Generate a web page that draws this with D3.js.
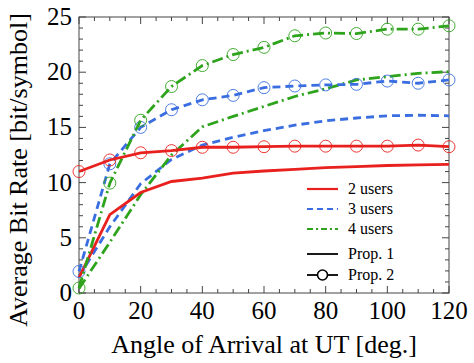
<!DOCTYPE html>
<html>
<head>
<meta charset="utf-8">
<script src="https://cdn.jsdelivr.net/npm/d3@7"></script>
<style>
  body { margin: 0; background: #fff; }
  svg { display: block; font-family: 'Liberation Serif', 'DejaVu Serif', serif; }
</style>
</head>
<body>
<script>
const angles = [0, 10, 20, 30, 40, 50, 60, 70, 80, 90, 100, 110, 120]

const red1 = [1.4, 7.1, 9.1, 10.1, 10.4, 10.85, 11.05, 11.2, 11.35, 11.45, 11.55, 11.6, 11.65]
const red2 = [11.0, 12.05, 12.7, 12.9, 13.2, 13.2, 13.25, 13.3, 13.3, 13.3, 13.3, 13.4, 13.25]
const blue1 = [1.5, 6.0, 9.9, 12.1, 13.4, 14.1, 14.7, 15.2, 15.6, 15.85, 16.05, 16.1, 16.05]
const blue2 = [1.95, 11.7, 15.0, 16.6, 17.5, 17.9, 18.6, 18.75, 18.85, 18.9, 19.2, 19.0, 19.3]
const green1 = [0.4, 4.6, 8.9, 12.5, 15.05, 16.0, 16.9, 17.8, 18.5, 19.3, 19.6, 19.9, 20.05]
const green2 = [0.45, 9.95, 15.65, 18.7, 20.6, 21.6, 22.25, 23.3, 23.55, 23.5, 23.9, 23.9, 24.2]

const xTicks = [0, 20, 40, 60, 80, 100, 120]
const yTicks = [0, 5, 10, 15, 20, 25]
const userLabels = ['2 users', '3 users', '4 users']
const propLabels = ['Prop. 1', 'Prop. 2']

const W = 474
const H = 363
const m = { left: 79, right: 25, top: 17, bottom: 70 }

const colors = { red: '#e8201e', blue: '#3a6ee0', green: '#2ea31c' }
const dashes = { red: null, blue: '8,5', green: '11,4,2,4' }

const svg = d3.select('body').append('svg')
  .attr('width', W)
  .attr('height', H)

const x = d3.scaleLinear().domain([0, 120]).range([m.left, W - m.right])
const y = d3.scaleLinear().domain([0, 25]).range([H - m.bottom, m.top])

// ticks, inward on all four sides
const frame = svg.append('g').attr('stroke', '#444').attr('stroke-width', 1)

d3.range(0, 121, 5).forEach(v => {
  let len = v % 20 === 0 ? 7 : 4
  frame.append('line').attr('x1', x(v)).attr('x2', x(v)).attr('y1', y(0)).attr('y2', y(0) - len)
  frame.append('line').attr('x1', x(v)).attr('x2', x(v)).attr('y1', y(25)).attr('y2', y(25) + len)
})
d3.range(0, 26, 1).forEach(v => {
  let len = v % 5 === 0 ? 7 : 4
  frame.append('line').attr('y1', y(v)).attr('y2', y(v)).attr('x1', x(0)).attr('x2', x(0) + len)
  frame.append('line').attr('y1', y(v)).attr('y2', y(v)).attr('x1', x(120)).attr('x2', x(120) - len)
})

frame.append('rect')
  .attr('x', x(0)).attr('y', y(25))
  .attr('width', x(120) - x(0)).attr('height', y(0) - y(25))
  .attr('fill', 'none')

// tick labels
svg.append('g').selectAll('text')
  .data(xTicks).enter().append('text')
  .attr('x', d => x(d))
  .attr('y', y(0) + 26)
  .attr('text-anchor', 'middle')
  .attr('font-size', 25)
  .text(d => d)

svg.append('g').selectAll('text')
  .data(yTicks).enter().append('text')
  .attr('x', x(0) - 7)
  .attr('y', d => y(d) + 8)
  .attr('text-anchor', 'end')
  .attr('font-size', 25)
  .text(d => d)

svg.append('text')
  .attr('x', (x(0) + x(120)) / 2)
  .attr('y', 353)
  .attr('text-anchor', 'middle')
  .attr('font-size', 26)
  .text('Angle of Arrival at UT [deg.]')

svg.append('text')
  .attr('transform', `translate(27,${(y(0) + y(25)) / 2 + 15}) rotate(-90)`)
  .attr('text-anchor', 'middle')
  .attr('font-size', 26)
  .text('Average Bit Rate [bit/symbol]')

// series
const line = d3.line().x((d, i) => x(angles[i])).y(d => y(d))
const plot = svg.append('g')

const series = [
  { key: 'blue', vals: blue1, marker: false },
  { key: 'green', vals: green1, marker: false },
  { key: 'red', vals: red1, marker: false },
  { key: 'blue', vals: blue2, marker: true },
  { key: 'green', vals: green2, marker: true },
  { key: 'red', vals: red2, marker: true }
]

series.forEach(s => {
  plot.append('path')
    .datum(s.vals)
    .attr('d', line)
    .attr('fill', 'none')
    .attr('stroke', colors[s.key])
    .attr('stroke-width', 2.8)
    .attr('stroke-dasharray', dashes[s.key])

  if (s.marker) {
    plot.append('g').selectAll('circle')
      .data(s.vals).enter().append('circle')
      .attr('cx', (d, i) => x(angles[i]))
      .attr('cy', d => y(d))
      .attr('r', 6)
      .attr('fill', 'none')
      .attr('stroke', colors[s.key])
      .attr('stroke-width', 0.9)
  }
})

// legend
const legend = svg.append('g').attr('font-size', 16)
const lx1 = 307
const lx2 = 338
const rowsY = [189, 209, 229]

userLabels.forEach((t, i) => {
  let key = ['red', 'blue', 'green'][i]
  legend.append('line')
    .attr('x1', lx1).attr('x2', lx2).attr('y1', rowsY[i]).attr('y2', rowsY[i])
    .attr('stroke', colors[key])
    .attr('stroke-width', key === 'red' ? 2.2 : 1.8)
    .attr('stroke-dasharray', key === 'blue' ? '6,4' : key === 'green' ? '6,3,2,3' : null)
  legend.append('text').attr('x', 348).attr('y', rowsY[i] + 5).text(t)
})

const propY = [254, 275]
propLabels.forEach((t, i) => {
  legend.append('line')
    .attr('x1', lx1).attr('x2', lx2).attr('y1', propY[i]).attr('y2', propY[i])
    .attr('stroke', '#000')
    .attr('stroke-width', 1.8)
  if (i === 1) {
    legend.append('circle')
      .attr('cx', (lx1 + lx2) / 2).attr('cy', propY[i]).attr('r', 5)
      .attr('fill', '#fff').attr('stroke', '#000').attr('stroke-width', 1.6)
  }
  legend.append('text').attr('x', 348).attr('y', propY[i] + 5).text(t)
})
</script>
</body>
</html>
